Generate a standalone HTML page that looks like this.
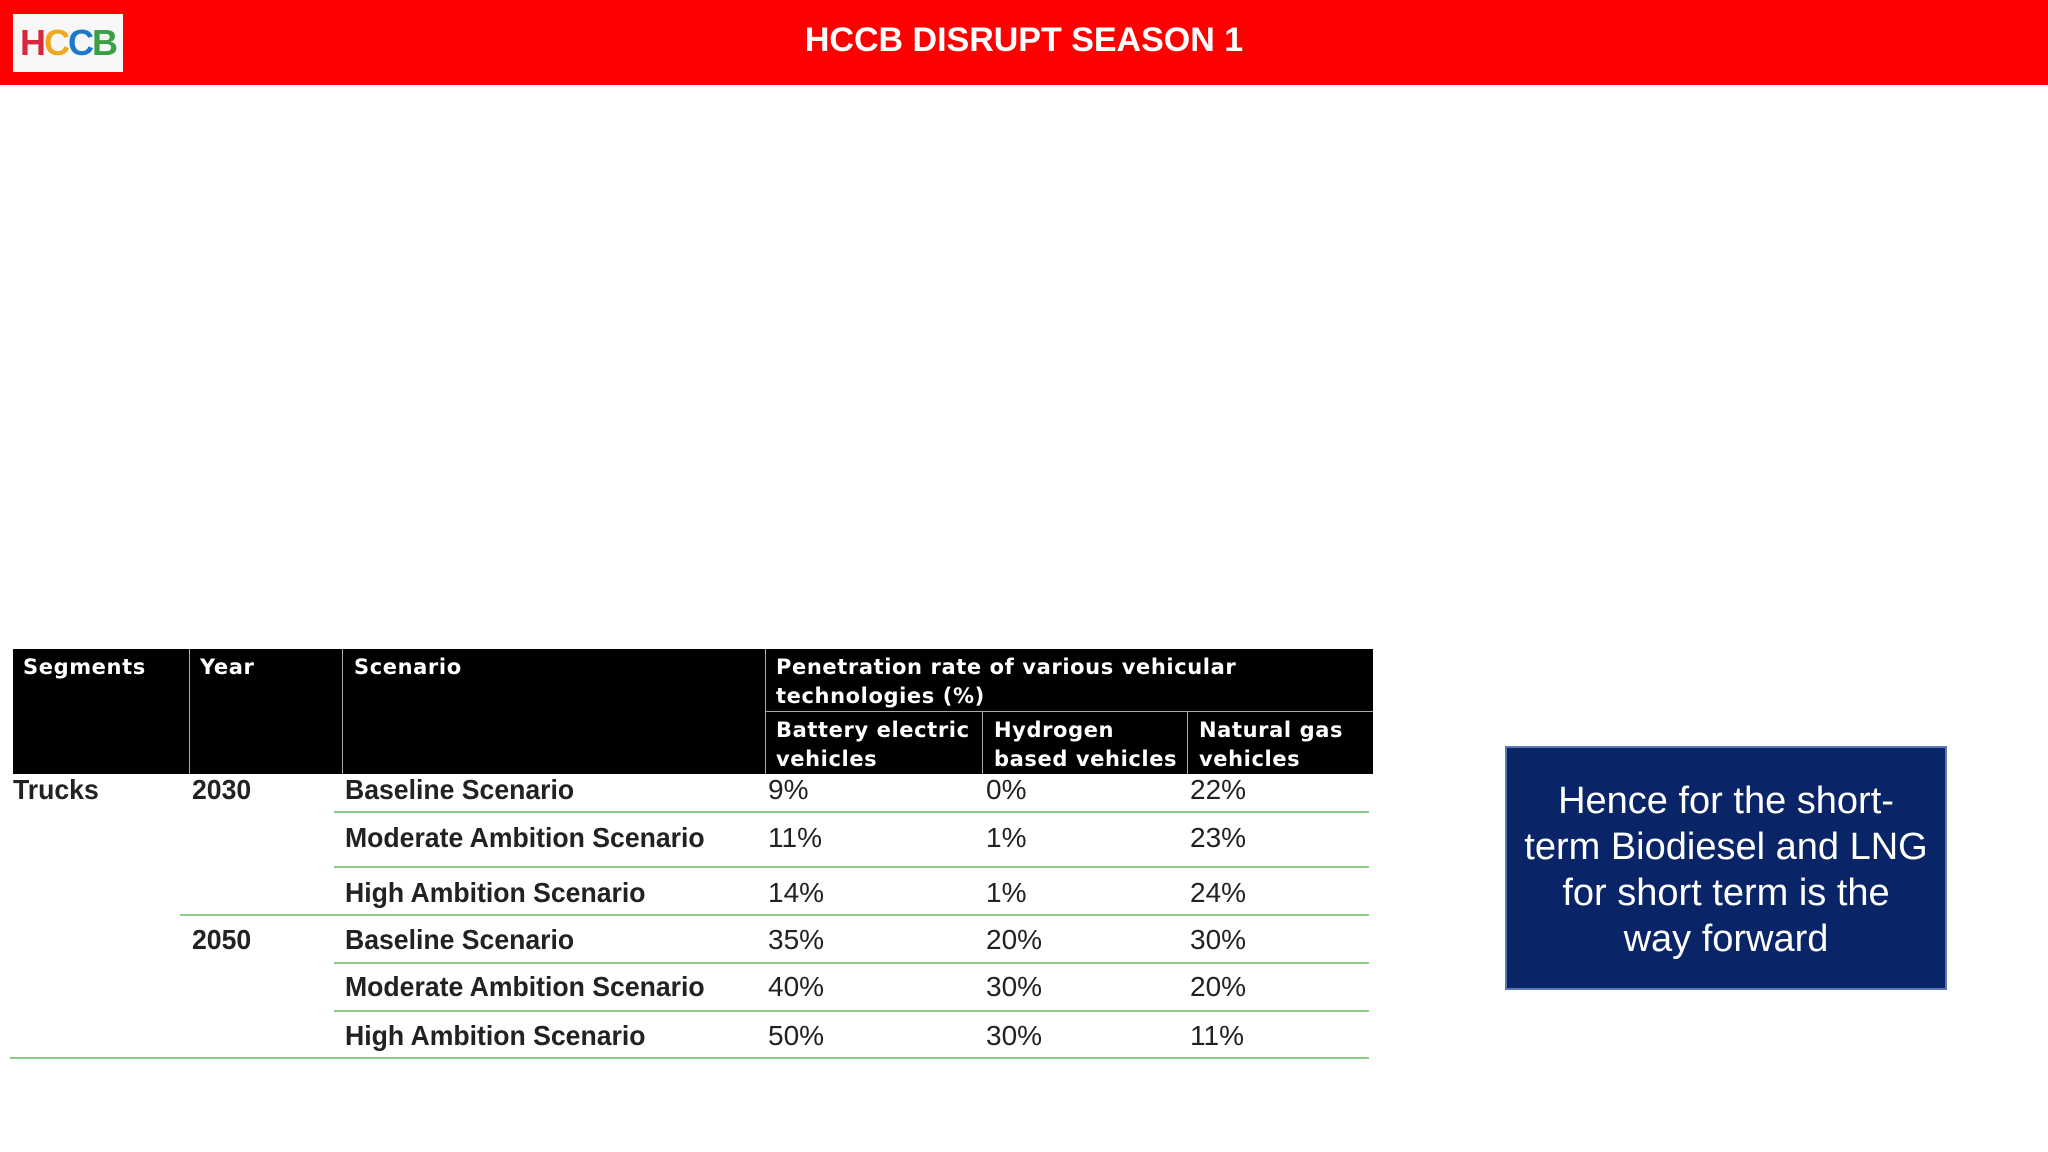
<!DOCTYPE html>
<html><head><meta charset="utf-8"><style>
body{margin:0;width:2048px;height:1152px;background:#fff;position:relative;overflow:hidden;font-family:"Liberation Sans",sans-serif}
.a{position:absolute}
.hd{color:#fff;font-family:"DejaVu Sans",sans-serif;font-weight:bold;font-size:21px;letter-spacing:0.6px;line-height:29px;white-space:nowrap}
.cell{position:absolute;font-family:"Liberation Sans Narrow","Liberation Sans",sans-serif;font-size:28px;color:#222;line-height:34px;white-space:nowrap}
.b{font-weight:bold;transform:scaleX(0.95);transform-origin:left center}
.gl{position:absolute;height:2px;background:#8dcb8a}
.vl{position:absolute;top:649px;height:125px;width:1px;background:#aaa}
</style></head><body>
<div class="a" style="left:0;top:0;width:2048px;height:85px;background:#fe0000"></div>
<div class="a" style="left:13px;top:14px;width:110px;height:58px;background:#f7f7f7;font-weight:bold;font-size:36px;line-height:58px;text-align:center;letter-spacing:-2px"><span style="color:#d8283f">H</span><span style="color:#f0a820">C</span><span style="color:#1f78c8">C</span><span style="color:#3aa046">B</span></div>
<div class="a" style="left:0;width:2048px;top:20px;text-align:center;color:#fff;font-weight:bold;font-size:34px;line-height:40px">HCCB DISRUPT SEASON 1</div>

<div>
<div class="a" style="left:13px;top:649px;width:1360px;height:125px;background:#000"></div>
<div class="vl" style="left:189px"></div><div class="vl" style="left:342px"></div><div class="vl" style="left:765px"></div>
<div class="a" style="left:982px;top:712px;width:1px;height:62px;background:#aaa"></div>
<div class="a" style="left:1187px;top:712px;width:1px;height:62px;background:#aaa"></div>
<div class="a" style="left:765px;top:711px;width:608px;height:1px;background:#aaa"></div>
<div class="a hd" style="left:23px;top:653px">Segments</div>
<div class="a hd" style="left:200px;top:653px">Year</div>
<div class="a hd" style="left:354px;top:653px">Scenario</div>
<div class="a hd" style="left:776px;top:653px">Penetration rate of various vehicular<br>technologies (%)</div>
<div class="a hd" style="left:776px;top:716px">Battery electric<br>vehicles</div>
<div class="a hd" style="left:994px;top:716px">Hydrogen<br>based vehicles</div>
<div class="a hd" style="left:1199px;top:716px">Natural gas<br>vehicles</div>

<div class="cell b" style="left:13px;top:773px">Trucks</div>
<div class="cell b" style="left:192px;top:773px">2030</div>
<div class="cell b" style="left:192px;top:923px">2050</div>

<div class="cell b" style="left:345px;top:773px">Baseline Scenario</div><div class="cell" style="left:768px;top:773px">9%</div><div class="cell" style="left:986px;top:773px">0%</div><div class="cell" style="left:1190px;top:773px">22%</div>
<div class="gl" style="left:334px;width:1035px;top:811px"></div>
<div class="cell b" style="left:345px;top:821px">Moderate Ambition Scenario</div><div class="cell" style="left:768px;top:821px">11%</div><div class="cell" style="left:986px;top:821px">1%</div><div class="cell" style="left:1190px;top:821px">23%</div>
<div class="gl" style="left:334px;width:1035px;top:866px"></div>
<div class="cell b" style="left:345px;top:876px">High Ambition Scenario</div><div class="cell" style="left:768px;top:876px">14%</div><div class="cell" style="left:986px;top:876px">1%</div><div class="cell" style="left:1190px;top:876px">24%</div>
<div class="gl" style="left:180px;width:1189px;top:914px"></div>
<div class="cell b" style="left:345px;top:923px">Baseline Scenario</div><div class="cell" style="left:768px;top:923px">35%</div><div class="cell" style="left:986px;top:923px">20%</div><div class="cell" style="left:1190px;top:923px">30%</div>
<div class="gl" style="left:334px;width:1035px;top:962px"></div>
<div class="cell b" style="left:345px;top:970px">Moderate Ambition Scenario</div><div class="cell" style="left:768px;top:970px">40%</div><div class="cell" style="left:986px;top:970px">30%</div><div class="cell" style="left:1190px;top:970px">20%</div>
<div class="gl" style="left:334px;width:1035px;top:1010px"></div>
<div class="cell b" style="left:345px;top:1019px">High Ambition Scenario</div><div class="cell" style="left:768px;top:1019px">50%</div><div class="cell" style="left:986px;top:1019px">30%</div><div class="cell" style="left:1190px;top:1019px">11%</div>
<div class="gl" style="left:10px;width:1359px;top:1057px"></div>
</div>

<div class="a" style="left:1505px;top:746px;width:438px;height:240px;background:#0a2468;border:2px solid #5b78b5;color:#fff;font-size:38px;line-height:46px;text-align:center;display:flex;align-items:center;justify-content:center">
<div style="margin-top:4px;white-space:nowrap">Hence for the short-<br>term Biodiesel and LNG<br>for short term is the<br>way forward</div></div>
</body></html>
